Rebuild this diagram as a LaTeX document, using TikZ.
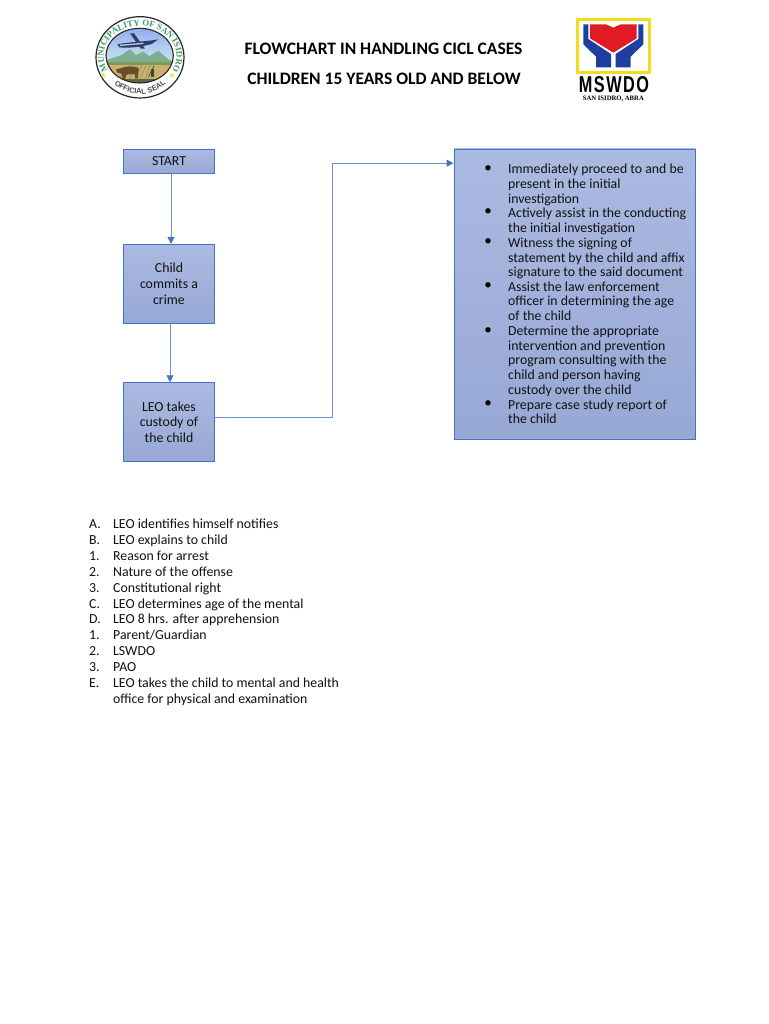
\documentclass[tikz,border=0pt]{standalone}
\usepackage{fontspec}
\setmainfont{Carlito}
\newfontfamily\logoserif{Liberation Serif}
\newfontfamily\logosans{Liberation Sans}
\usetikzlibrary{arrows.meta,decorations.text,shapes.geometric}
\definecolor{edgeblue}{HTML}{4472C4}
\definecolor{arrowblue}{HTML}{6A90D6}
\definecolor{fillA}{HTML}{ABBAE1}
\definecolor{fillB}{HTML}{97A8D5}
\definecolor{inktext}{HTML}{111111}
\definecolor{sealgreen}{HTML}{3E9A62}
\definecolor{skyblue}{HTML}{A9D5E4}
\definecolor{hillgreen}{HTML}{7FAE92}
\definecolor{fieldtan}{HTML}{CDAF6E}
\definecolor{fieldgreen}{HTML}{7D9A58}
\definecolor{navyplane}{HTML}{2C3E6E}
\definecolor{oxbrown}{HTML}{6B4A2E}
\definecolor{starYellow}{HTML}{EEE45A}
\definecolor{logoYellow}{HTML}{F2DC1E}
\definecolor{logoRed}{HTML}{E01B24}
\definecolor{logoBlue}{HTML}{1F3FA0}
\tikzset{
  x=1pt,y=-1pt,
  flowbox/.style={draw=edgeblue,line width=0.9pt,top color=fillA,bottom color=fillB,
    minimum width=90.5pt,align=center,inner sep=0pt,text=inktext,
    font=\fontsize{13.8}{15.8}\selectfont},
  flowarrow/.style={draw=arrowblue,line width=0.9pt,-{Triangle[length=7pt,width=7pt,color=edgeblue]}},
  titletext/.style={anchor=base,inner sep=0pt,text=black,font=\fontsize{17.5}{20}\selectfont\bfseries},
  bodytext/.style={anchor=base west,inner sep=0pt,text=inktext,font=\fontsize{13.8}{15}\selectfont},
  bulletmark/.style={anchor=center,inner sep=0pt,text=black,font=\fontsize{15}{15}\selectfont},
}
\begin{document}
\begin{tikzpicture}
\useasboundingbox (0,0) rectangle (768,1024);
\fill[white] (0,0) rectangle (768,1024);

% --- seal (coordinates of the 3x crop at 80,0)
\begin{scope}[shift={(80,0)},x=0.3333pt,y=-0.3333pt]
  \fill[white,draw=black!85,line width=1.2pt] (180,172) ellipse [x radius=132,y radius=122];
  \begin{scope}
    \clip (179,167) ellipse [x radius=101,y radius=82];
    \shade[top color=skyblue!70!blue!80,bottom color=skyblue!60!white] (70,80) rectangle (290,190);
    \fill[hillgreen] (70,190) -- (85,178) -- (125,165) -- (150,148) -- (168,165) -- (190,155) -- (208,168) -- (235,152) -- (265,178) -- (290,190) -- cycle;
    \fill[fieldtan] (70,186) rectangle (290,255);
    \fill[fieldgreen] (70,186) rectangle (290,196);
    \foreach \k in {0,...,5}{\draw[fieldgreen,line width=0.6pt] (100+\k*18,255) -- (150+\k*12,196);}
    \fill[fieldgreen!70!black] (120,236) rectangle (240,255);
    % plane
    \fill[navyplane] (112,133) .. controls (150,125) and (200,125) .. (235,118) -- (215,132) .. controls (180,142) and (140,145) .. (118,142) -- cycle;
    \fill[navyplane] (150,100) -- (162,100) -- (195,146) -- (182,146) -- cycle;
    \fill[white!70!navyplane] (120,134) -- (190,128) -- (190,132) -- (120,138) -- cycle;
    % ox
    \fill[oxbrown] (122,205) .. controls (140,197) and (165,198) .. (176,205) -- (174,235) -- (166,235) -- (164,222) -- (138,224) -- (136,238) -- (128,238) -- (126,222) -- (112,218) -- (108,208) -- cycle;
    % farmer
    \draw[black!70,line width=0.7pt] (222,198) -- (205,232);
    \fill[fieldgreen!50!black] (213,206) rectangle (222,232);
  \end{scope}
  \draw[black!85,line width=1.1pt] (179,167) ellipse [x radius=101,y radius=82];
  \node[star,star points=5,star point ratio=2.3,fill=starYellow,minimum size=6pt,inner sep=0pt] (sealstarA) at (70,226) {};
  \node[star,star points=5,star point ratio=2.3,fill=starYellow,minimum size=6pt,inner sep=0pt] (sealstarB) at (276,226) {};
\end{scope}
\begin{scope}[shift={(140,56)},x=1pt,y=1pt]
  \path[postaction={decorate,decoration={text along path,text align=center,
     text={|\fontsize{8.8}{10}\logoserif\bfseries\color{sealgreen}|MUNICIPALITY OF SAN ISIDRO}}}]
     (0,0) ++(228:36.5 and 30) arc[start angle=228,end angle=-48,x radius=36.5,y radius=30];
  \path[postaction={decorate,decoration={text along path,text align=center,
     text={|\fontsize{7.5}{8}\logosans\bfseries\color{black!70}|OFFICIAL SEAL}}}]
     (0,0) ++(226:38 and 38) arc[start angle=226,end angle=314,x radius=38,y radius=38];
\end{scope}

% --- MSWDO logo (coordinates of the 3x crop at 560,5)
\begin{scope}[shift={(560,5)},x=0.3333pt,y=-0.3333pt]
  \draw[logoYellow,line width=2.6pt,fill=white] (52,43) rectangle (269,202);
  \fill[logoBlue] (70,58) -- (85,58) -- (85,102) -- (153,147) -- (153,187) -- (108,187) -- (108,155) -- (70,118) -- cycle;
  \fill[logoBlue] (250,58) -- (235,58) -- (235,102) -- (167,147) -- (167,187) -- (212,187) -- (212,155) -- (250,118) -- cycle;
  \fill[logoRed] (90,58) -- (138,58) -- (160,68) -- (182,58) -- (230,58) -- (230,100) -- (160,143) -- (90,100) -- cycle;
  \node[inner sep=0pt,anchor=center] (logoword) at (162,240) {\resizebox{70pt}{16pt}{\logosans\addfontfeature{LetterSpace=9}\bfseries MSWDO}};
  \node[inner sep=0pt,anchor=center] (logoplace) at (160,282) {\resizebox{61pt}{!}{\logoserif\bfseries SAN ISIDRO, ABRA}};
\end{scope}

% --- title
\node[titletext] (titleA) at (383.5,55) {FLOWCHART IN HANDLING CICL CASES};
\node[titletext] (titleB) at (384,85) {CHILDREN 15 YEARS OLD AND BELOW};

% --- flow boxes
\node[flowbox,minimum height=24.5pt] (start) at (169,161.3) {START};
\node[flowbox,minimum height=78.7pt] (child) at (169,283.7) {Child\\commits a\\crime};
\node[flowbox,minimum height=79pt] (leo) at (169,422.2) {LEO takes\\custody of\\the child};
\node[draw=edgeblue,line width=0.9pt,top color=fillA,bottom color=fillB,minimum width=241.7pt,minimum height=290.3pt,inner sep=0pt] (tasks) at (574.85,294.15) {};

\draw[flowarrow] ([xshift=2pt]start.south) -- ([xshift=2pt]child.north);
\draw[flowarrow] ([xshift=1pt]child.south) -- ([xshift=1pt]leo.north);
\coordinate (bendA) at (332.5,417.5);
\draw[flowarrow] (leo.east |- bendA) -- (bendA) |- ([yshift=131pt]tasks.west);

% --- task list
\foreach \n/\y in {1/169.5,2/212.5,3/242,4/286.5,5/331,6/404}{
  \node[bulletmark] (bul\n) at (488,\y) {•};
}
\foreach \n/\y/\t in {
  1/173.8/Immediately proceed to and be,
  2/188.8/present in the initial,
  3/203.8/investigation,
  4/217.8/Actively assist in the conducting,
  5/232.8/the initial investigation,
  6/247.8/Witness the signing of,
  7/262.4/statement by the child and affix,
  8/276.4/signature to the said document,
  9/291.4/Assist the law enforcement,
  10/305.4/officer in determining the age,
  11/320.4/of the child,
  12/335.4/Determine the appropriate,
  13/350.4/intervention and prevention,
  14/364.4/program consulting with the,
  15/379.4/child and person having,
  16/394.4/custody over the child,
  17/409.4/Prepare case study report of,
  18/423.4/the child}{
  \node[bodytext] (task\n) at (508,\y) {\t};
}

% --- lettered list
\foreach \n/\y/\a/\t in {
  1/528.5/A./LEO identifies himself notifies,
  2/544.5/B./LEO explains to child,
  3/560.5/1./Reason for arrest,
  4/576.5/2./Nature of the offense,
  5/592.5/3./Constitutional right,
  6/608.5/C./LEO determines age of the mental,
  7/623.5/D./LEO 8 hrs. after apprehension,
  8/639.5/1./{Parent/Guardian},
  9/655.5/2./LSWDO,
  10/671.5/3./PAO,
  11/687.5/E./LEO takes the child to mental and health}{
  \node[bodytext] (mark\n) at (89,\y) {\a};
  \node[bodytext] (item\n) at (113,\y) {\t};
}
\node[bodytext] (item12) at (113,703.5) {office for physical and examination};
\end{tikzpicture}
\end{document}
